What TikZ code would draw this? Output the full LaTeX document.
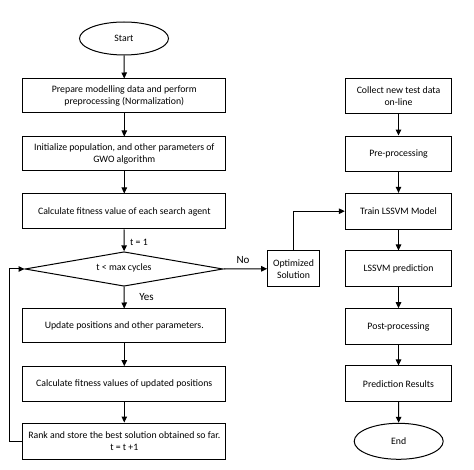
\documentclass[tikz,border=0pt]{standalone}
\usepackage{fontspec}
\setmainfont{Carlito}
\usetikzlibrary{shapes.geometric,arrows.meta}
\begin{document}
\begin{tikzpicture}[x=1pt,y=-1pt,
  every node/.style={font=\fontsize{9.8}{11.8}\selectfont},
  box/.style={draw,line width=1pt,align=center,inner sep=0pt},
  term/.style={draw,ellipse,line width=1pt,inner sep=0pt},
  arr/.style={line width=1pt,-{Triangle[length=6pt,width=5.5pt]}}]
\useasboundingbox (0,0) rectangle (474,470);
% left column
\node[term,minimum width=89pt,minimum height=33pt] (start) at (124,38.5) {Start};
\node[box,minimum width=203pt,minimum height=34pt] (b1) at (124.3,96) {Prepare modelling data and perform\\preprocessing (Normalization)};
\node[box,minimum width=203pt,minimum height=34pt] (b2) at (124.3,154) {Initialize population, and other parameters of\\GWO algorithm};
\node[box,minimum width=203pt,minimum height=35pt] (b3) at (124.3,211.5) {Calculate fitness value of each search agent};
\node[draw,diamond,line width=1pt,aspect=5.8,minimum width=198pt,minimum height=34.5pt,inner sep=0pt] (d) at (124,269) {};
\node at (124,268) {t < max cycles};
\node[box,minimum width=203pt,minimum height=34pt] (b4) at (124.3,326) {Update positions and other parameters.};
\node[box,minimum width=203pt,minimum height=35pt] (b5) at (124.3,384.2) {Calculate fitness values of updated positions};
\node[box,minimum width=203pt,minimum height=36pt] (b6) at (124.3,441) {Rank and store the best solution obtained so far.\\t = t +1};
\node (t1) at (139,242) {t = 1};
\node (yes) at (146.5,297) {\fontsize{11}{13}\selectfont Yes};
\node (no) at (243,260) {\fontsize{11}{13}\selectfont No};
% middle
\node[box,minimum width=51.6pt,minimum height=35.7pt] (opt) at (293.5,268.8) {Optimized\\Solution};
% right column
\node[box,minimum width=106.4pt,minimum height=35pt] (c1) at (398.5,96.2) {Collect new test data\\on-line};
\node[box,minimum width=106.4pt,minimum height=35.3pt] (c2) at (398.5,153.7) {Pre-processing};
\node[box,minimum width=106.4pt,minimum height=35.7pt] (c3) at (398.5,211.2) {Train LSSVM Model};
\node[box,minimum width=106.4pt,minimum height=35.7pt] (c4) at (398.5,268.8) {LSSVM prediction};
\node[box,minimum width=106.4pt,minimum height=35.6pt] (c5) at (398.5,326.5) {Post-processing};
\node[box,minimum width=106.4pt,minimum height=35.7pt] (c6) at (398.5,383.8) {Prediction Results};
\node[term,minimum width=89pt,minimum height=36pt] (end) at (398.7,441.3) {End};
% connectors
\draw[arr] (start) -- (b1);
\draw[arr] (b1) -- (b2);
\draw[arr] (b2) -- (b3);
\draw[arr] (b3) -- (d);
\draw[arr] (d) -- (b4);
\draw[arr] (b4) -- (b5);
\draw[arr] (b5) -- (b6);
\draw[arr] (b6.west) -| (9,269) -- (d.west);
\draw[arr] (d.east) -- (opt.west);
\draw[arr] (opt.north) |- (c3.west);
\draw[arr] (c1) -- (c2);
\draw[arr] (c2) -- (c3);
\draw[arr] (c3) -- (c4);
\draw[arr] (c4) -- (c5);
\draw[arr] (c5) -- (c6);
\draw[arr] (c6) -- (end);
\end{tikzpicture}
\end{document}
